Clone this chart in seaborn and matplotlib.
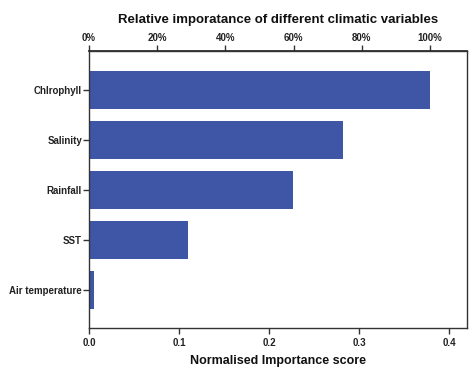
import matplotlib
matplotlib.use("Agg")
import matplotlib.pyplot as plt
import seaborn as sns
import pandas as pd

variables = ["Chlrophyll", "Salinity", "Rainfall", "SST", "Air temperature"]
importance = [0.379, 0.282, 0.227, 0.110, 0.0055]

sns.set_theme(style="ticks")
plt.rcParams['font.family'] = ['Liberation Sans', 'DejaVu Sans']

df = pd.DataFrame({"variable": variables, "importance": importance})

fig = plt.figure(figsize=(4.74, 3.79), dpi=100)
ax = fig.add_axes([0.1878, 0.1346, 0.7974, 0.7308])
sns.barplot(data=df, x="importance", y="variable", orient="h", color="#3F55A6",
            saturation=1, width=0.76, ax=ax, edgecolor="none")
ax.set_xlim(0, 0.42)
ax.set_ylim(4.76, -0.78)
ax.set_xticks([0, 0.1, 0.2, 0.3, 0.4])
ax.set_xticklabels(["0.0", "0.1", "0.2", "0.3", "0.4"])
ax.set_xlabel("Normalised Importance score", fontsize=9, fontweight="bold",
              labelpad=5, color="#111111")
ax.set_ylabel("")
for s in ax.spines.values():
    s.set_visible(True)
    s.set_color("#333333")
    s.set_linewidth(1.0)
ax.tick_params(axis="both", labelsize=7, length=4, width=1, color="#333333", pad=1)
for lab in ax.get_xticklabels() + ax.get_yticklabels():
    lab.set_fontweight("bold")
    lab.set_color("#222222")
ax.tick_params(axis="x", pad=3)

mx = max(importance)
sec = ax.secondary_xaxis("top", functions=(lambda x: x / mx * 100, lambda p: p * mx / 100))
sec.set_xticks([0, 20, 40, 60, 80, 100])
sec.set_xticklabels(["0%", "20%", "40%", "60%", "80%", "100%"])
sec.tick_params(labelsize=7, length=4, width=1, color="#333333", pad=2)
for lab in sec.get_xticklabels():
    lab.set_fontweight("bold")
    lab.set_color("#222222")

fig.text(0.587, 0.948, "Relative imporatance of different climatic variables",
         ha="center", va="center", fontsize=9.5, fontweight="bold", color="#111111")

fig.savefig("out.png", dpi=100)
